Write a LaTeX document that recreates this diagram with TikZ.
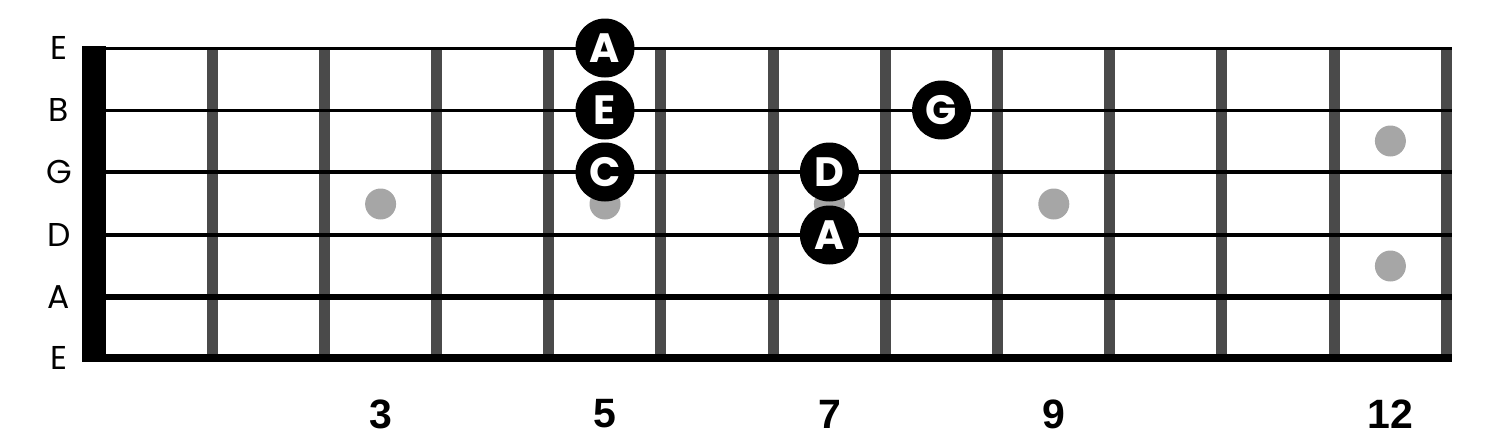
\documentclass[tikz,border=0pt]{standalone}
\usepackage{fontspec}
\newfontfamily\notefont{Poppins}
\newfontfamily\numfont{Liberation Sans}
\definecolor{fretgray}{HTML}{4A4A4A}
\definecolor{inlaygray}{HTML}{A6A6A6}

\begin{document}
\begin{tikzpicture}[x=1pt,y=-1pt,
    fret/.style={draw=fretgray, line width=11pt},
    strg/.style={draw=black},
    inlay/.style={fill=inlaygray},
    note/.style={circle, fill=black, minimum size=59pt, inner sep=0pt, text=white, font=\notefont\bfseries\fontsize{41}{41}\selectfont},
    strlabel/.style={font=\notefont\fontsize{33}{33}\selectfont},
    fretnum/.style={font=\numfont\bfseries\fontsize{41}{41}\selectfont}]
    \useasboundingbox (0,0) rectangle (1500,442);
    % frets
    \foreach \i in {0,...,11}
        \draw[fret] (212+112.2*\i,48) -- (212+112.2*\i,358);
    % nut
    \fill[black] (82,46) rectangle (106,362);
    % strings
    \draw[strg, line width=3pt] (82,48) coordinate (e1) -- (1452,48) coordinate (e1r);
    \draw[strg, line width=3pt] (82,110) coordinate (b) -- (1452,110) coordinate (br);
    \draw[strg, line width=3.5pt] (82,172) coordinate (g) -- (1452,172) coordinate (gr);
    \draw[strg, line width=4.5pt] (82,235) coordinate (d) -- (1452,235) coordinate (dr);
    \draw[strg, line width=6pt] (82,297) coordinate (a) -- (1452,297) coordinate (ar);
    \draw[strg, line width=8pt] (82,358) coordinate (e6) -- (1452,358) coordinate (e6r);
    % inlays
    \fill[inlay] (380.6,204) circle (15.5);
    \fill[inlay] (605,204) circle (15.5);
    \fill[inlay] (829.4,204) circle (15.5);
    \fill[inlay] (1053.8,204) circle (15.5);
    \fill[inlay] (1390.4,141) circle (15.5);
    \fill[inlay] (1390.4,266) circle (15.5);
    % notes
    \node[note] (nA1) at (605,48) {A};
    \node[note] (nE) at (605,110) {E};
    \node[note] (nC) at (605,172) {C};
    \node[note] (nD) at (829.4,172) {D};
    \node[note] (nA2) at (829.4,235) {A};
    \node[note] (nG) at (941.6,110) {G};
    % string names
    \node[strlabel] (le1) at (59,48) {E};
    \node[strlabel] (lb) at (59,110) {B};
    \node[strlabel] (lg) at (59,172) {G};
    \node[strlabel] (ld) at (59,235) {D};
    \node[strlabel] (la) at (59,297) {A};
    \node[strlabel] (le6) at (59,358) {E};
    % fret numbers
    \node[fretnum] (f3) at (380.6,414) {3};
    \node[fretnum] (f5) at (605,414) {5};
    \node[fretnum] (f7) at (829.4,414) {7};
    \node[fretnum] (f9) at (1053.8,414) {9};
    \node[fretnum] (f12) at (1390.4,414) {12};
\end{tikzpicture}
\end{document}
